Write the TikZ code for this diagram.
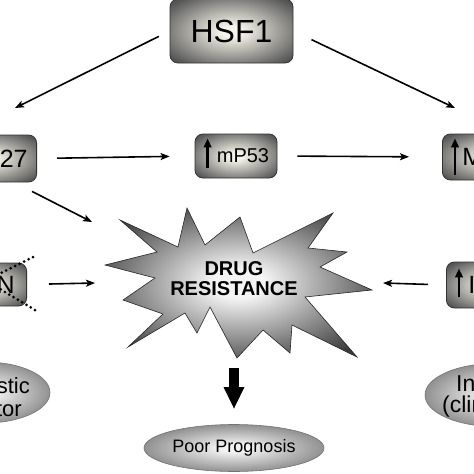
\documentclass[tikz,border=0pt]{standalone}
\usepackage{fontspec}
\setmainfont{Liberation Sans}
\usetikzlibrary{positioning,shapes.geometric,arrows.meta}

\definecolor{boxlight}{HTML}{F7F5EA}
\definecolor{boxdark}{HTML}{555555}
\definecolor{ovallight}{HTML}{F2F2F2}
\definecolor{ovaldark}{HTML}{7A7A7A}
\definecolor{burstlight}{HTML}{F4F4F4}
\definecolor{burstdark}{HTML}{3A3A3A}
\pgfdeclareradialshading{boxshade}{\pgfpoint{0bp}{0bp}}{color(0bp)=(boxlight); color(4bp)=(boxlight); color(32bp)=(boxdark); color(50bp)=(boxdark)}
\pgfdeclareradialshading{ovalshade}{\pgfpoint{0bp}{0bp}}{color(0bp)=(ovallight); color(4bp)=(ovallight); color(30bp)=(ovaldark); color(50bp)=(ovaldark)}
\pgfdeclareradialshading{burstshade}{\pgfpoint{0bp}{0bp}}{color(0bp)=(burstlight); color(5bp)=(burstlight); color(30bp)=(burstdark); color(50bp)=(burstdark)}

\tikzset{
  gene/.style={draw=black!80, line width=0.8pt, rounded corners=8pt, shade, shading=boxshade, inner sep=0pt},
  oval/.style={ellipse, draw=black!55, line width=0.6pt, shade, shading=ovalshade, inner sep=0pt},
  burst/.style={draw=black!85, line width=0.6pt, shading=burstshade},
  arr/.style={-{Stealth[length=9pt,width=7pt,inset=2pt]}, line width=1.6pt},
  fat/.style={-{Triangle[length=22pt,width=19pt]}, line width=9.5pt},
  upmark/.style={-{Triangle[length=9pt,width=7.5pt]}, line width=2.4pt},
  cross/.style={line width=3pt, line cap=round, dash pattern=on 0pt off 5pt}
}

\begin{document}
\begin{tikzpicture}[x=1pt, y=-1pt]
  \useasboundingbox (0,0) rectangle (474,474);
  \clip (0,0) rectangle (474,474);

  % Starburst
  \shadedraw[burst] (105,265) -- (157,252) -- (120,220) -- (178,247) -- (187,208)
    -- (205,245) -- (240,217) -- (253,253) -- (333,213) -- (308,248) -- (347,252)
    -- (320,267) -- (372,290) -- (305,297) -- (357,357) -- (292,325) -- (290,353)
    -- (263,330) -- (237,358) -- (210,307) -- (197,333) -- (185,313) -- (128,347)
    -- (163,314) -- (123,300) -- (155,278) -- cycle;
  \node[align=center, font=\fontsize{20}{20}\selectfont\bfseries] (drug) at (234,279) {DRUG\\RESISTANCE};

  % Nodes
  \node[gene, minimum width=123pt, minimum height=64pt, font=\fontsize{32}{32}\selectfont] (hsf1) at (231.5,31) {HSF1};
  \node[gene, anchor=east, minimum height=47pt, font=\fontsize{25}{25}\selectfont] (hsp) at (37,158.5) {\hspace*{60pt}27\hspace*{9pt}};
  \node[gene, minimum width=82pt, minimum height=44pt, font=\fontsize{20}{20}\selectfont] (mp53) at (236,156) {\hspace*{14pt}\raisebox{-4pt}{mP53}};
  \node[gene, anchor=west, minimum height=46pt, font=\fontsize{25}{25}\selectfont] (mdr) at (442,157) {\hspace*{20pt}\raisebox{-3pt}{M}\hspace*{60pt}};
  \node[gene, anchor=east, minimum height=43pt, font=\fontsize{25}{25}\selectfont] (pten) at (27,284.5) {\hspace*{50pt}N\hspace*{12pt}};
  \node[gene, anchor=west, minimum height=46pt, font=\fontsize{25}{25}\selectfont] (lowr) at (446,285) {\hspace*{22pt}I\hspace*{60pt}};

  \node[oval, minimum width=130pt, minimum height=61pt] (factor) at (-15,392.5) {};
  \node[anchor=base east, inner sep=0pt, font=\fontsize{22}{22}\selectfont] (factor1) at (30,393) {stic};
  \node[anchor=base east, inner sep=0pt, font=\fontsize{22}{22}\selectfont] (factor2) at (22,416) {tor};
  \node[oval, minimum width=140pt, minimum height=63pt] (clin) at (495,395) {};
  \node[anchor=base west, inner sep=0pt, font=\fontsize{23}{23}\selectfont] (clin1) at (456,391) {In};
  \node[anchor=base west, inner sep=0pt, font=\fontsize{23}{23}\selectfont] (clin2) at (442,412) {(clin};
  \node[oval, minimum width=180pt, minimum height=47pt, font=\fontsize{18}{18}\selectfont] (prog) at (234,448) {Poor Prognosis};

  % Up marks and cross
  \draw[upmark] ([shift={(13,-10)}]mp53.south west) -- ++(0,-30);
  \draw[upmark] ([shift={(13,-5)}]mdr.south west) -- ++(0,-37);
  \draw[upmark] ([shift={(13,-11)}]lowr.south west) -- ++(0,-29);
  \draw[cross] ([shift={(6,-27.5)}]pten.east) -- ++(-80,40);
  \draw[cross] ([shift={(8,25.5)}]pten.east) -- ++(-80,-48);

  % Arrows
  \coordinate (tohsp) at (15,108);
  \coordinate (tomdr) at (455,108);
  \coordinate (tostar1) at (92,222);
  \coordinate (tostar2) at (95,283);
  \coordinate (tostar3) at (383,283);
  \coordinate (fromstar) at (234,368);
  \draw[arr, shorten <=12pt] (hsf1.west) -- (tohsp);
  \draw[arr, shorten <=20pt] (hsf1.east) -- (tomdr);
  \draw[arr, shorten <=20pt, shorten >=25pt] (hsp.east) -- (mp53.west);
  \draw[arr, shorten <=20pt, shorten >=33pt] (mp53.east) -- (mdr.west);
  \draw[arr] ([shift={(-5,9)}]hsp.south east) -- (tostar1);
  \draw[arr, shorten <=22pt] (pten.east) -- (tostar2);
  \draw[arr, shorten <=18pt] (lowr.west) -- (tostar3);
  \draw[fat, shorten >=15pt] (fromstar) -- (prog.north);
\end{tikzpicture}
\end{document}
